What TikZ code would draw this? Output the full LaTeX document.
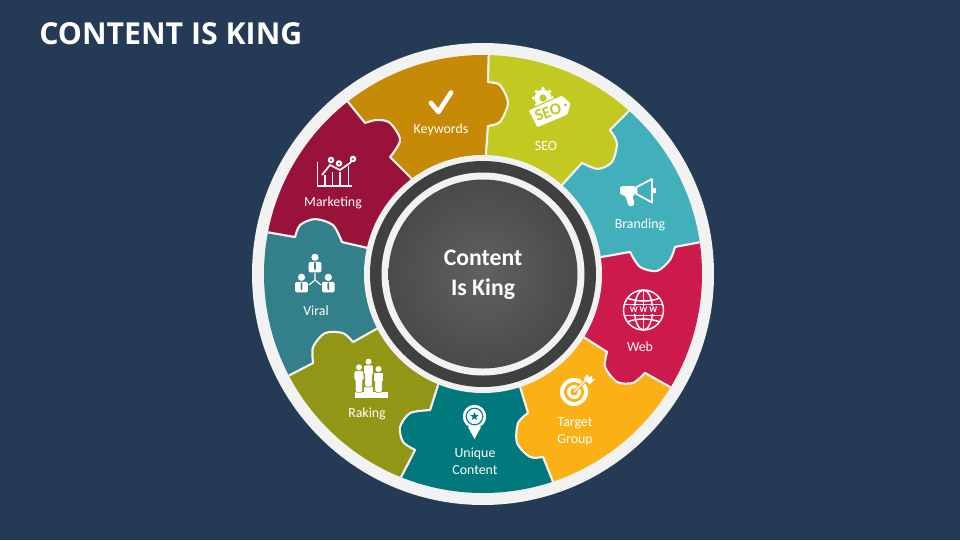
\documentclass[tikz,border=0pt]{standalone}
\usepackage{fontspec}
\setmainfont{Carlito}
\newfontfamily\titlefont{Open Sans}
\usetikzlibrary{shapes.geometric}
\definecolor{slatebg}{HTML}{253A54}
\definecolor{ringlight}{HTML}{F2F2F2}
\definecolor{ringdark}{HTML}{404040}
\definecolor{keywordcol}{HTML}{C68A06}
\definecolor{seocol}{HTML}{C2C920}
\definecolor{brandcol}{HTML}{41B0BB}
\definecolor{webcol}{HTML}{CB1A4B}
\definecolor{targetcol}{HTML}{FBB116}
\definecolor{uniquecol}{HTML}{00797D}
\definecolor{rakingcol}{HTML}{929617}
\definecolor{viralcol}{HTML}{34808A}
\definecolor{marketcol}{HTML}{991239}
\tikzset{
  piece/.style={fill=#1,draw=ringlight,line width=1.5pt,line join=round},
  lbl/.style={text=white,font=\fontsize{10.4pt}{12.6pt}\selectfont,align=center,inner sep=0pt},
  lined/.style={draw=white,line width=1.1pt},
}
% man in a suit, head on top of a block
\newcommand{\suitman}[3]{
  \fill[white] (#1,#2) circle (3.6);
  \fill[white,rounded corners=1pt] (#1-6.3,#2+15) rectangle (#1+6.3,#2+4.5);
  \fill[#3] (#1-.7,#2+5) -- (#1+.7,#2+5) -- (#1+1,#2+11) -- (#1,#2+13) -- (#1-1,#2+11) -- cycle;
}
% standing figure on the podium
\newcommand{\standing}[4]{
  \fill[white] (#1,#2) circle (3);
  \fill[white,draw=#4,line width=.4pt,rounded corners=1pt] (#1-5,#2+3.5) -- (#1+5,#2+3.5) -- (#1+5,#2+13) -- (#1+3.6,#2+13) -- (#1+3.6,#3) -- (#1-3.6,#3) -- (#1-3.6,#2+13) -- (#1-5,#2+13) -- cycle;
}
\begin{document}
\begin{tikzpicture}[x=0.75pt,y=-0.75pt]
  \useasboundingbox (0,0) rectangle (960,540);
  \fill[slatebg] (0,0) rectangle (960,540);
  \node[anchor=west,text=white,inner sep=0pt,font=\titlefont\bfseries\fontsize{22.7pt}{26pt}\selectfont] (title) at (39,34) {CONTENT IS KING};
  \coordinate (c) at (483,274);
  \fill[ringlight] (c) circle (231);
  % the nine puzzle pieces
  \begin{scope}
    \clip (c) circle (219);
    \path[piece=keywordcol] (c) -- (410,177) -- (390,157) -- plot[smooth] coordinates {(390,157)(400,140)(390,123)(377,120)(365,123)} -- (344,97) -- (400,-15) -- (489,48) -- (488,82) -- plot[smooth] coordinates {(488,82)(500,85)(508,103)(500,122)(488,126)} -- (486,154) -- cycle;
    \path[piece=seocol] (c) -- (486,154) -- (488,126) -- plot[smooth] coordinates {(488,126)(500,122)(508,103)(500,85)(488,82)} -- (489,48) -- (570,-15) -- (633,107) -- (610,130) -- plot[smooth] coordinates {(610,130)(617,143)(612,162)(598,169)(582,163)} -- (563,184) -- cycle;
    \path[piece=brandcol] (c) -- (563,184) -- (582,163) -- plot[smooth] coordinates {(582,163)(598,169)(612,162)(617,143)(610,130)} -- (633,107) -- (740,120) -- (707,241) -- (675,247) -- plot[smooth] coordinates {(675,247)(670,260)(657,271)(640,267)(630,252)} -- (602,257) -- cycle;
    \path[piece=webcol] (c) -- (602,257) -- (630,252) -- plot[smooth] coordinates {(630,252)(640,267)(657,271)(670,260)(675,247)} -- (707,241) -- (780,310) -- (677,391) -- (645,373) -- plot[smooth] coordinates {(645,373)(633,383)(617,382)(605,367)(607,352)} -- (585,338) -- cycle;
    \path[piece=targetcol] (c) -- (585,338) -- (607,352) -- plot[smooth] coordinates {(607,352)(605,367)(617,382)(633,383)(645,373)} -- (677,391) -- (640,530) -- (555,487) -- (543,457) -- plot[smooth] coordinates {(543,457)(530,457)(517,443)(518,423)(528,413)} -- (520,387) -- cycle;
    \path[piece=uniquecol] (c) -- (520,387) -- (528,413) -- plot[smooth] coordinates {(528,413)(518,423)(517,443)(530,457)(543,457)} -- (555,487) -- (475,570) -- (399,481) -- (415,450) -- plot[smooth] coordinates {(415,450)(403,442)(400,427)(410,413)(430,410)} -- (438,385) -- cycle;
    \path[piece=rakingcol] (c) -- (438,385) -- (430,410) -- plot[smooth] coordinates {(430,410)(410,413)(400,427)(403,442)(415,450)} -- (399,481) -- (280,500) -- (284,378) -- (313,363) -- plot[smooth] coordinates {(313,363)(313,347)(325,333)(343,333)(353,342)} -- (378,328) -- cycle;
    \path[piece=viralcol] (c) -- (378,328) -- (353,342) -- plot[smooth] coordinates {(353,342)(343,333)(325,333)(313,347)(313,363)} -- (284,378) -- (190,300) -- (261,231) -- (295,237) -- plot[smooth] coordinates {(295,237)(300,225)(315,219)(333,225)(342,242)} -- (368,248) -- cycle;
    \path[piece=marketcol] (c) -- (368,248) -- (342,242) -- plot[smooth] coordinates {(342,242)(333,225)(315,219)(300,225)(295,237)} -- (261,231) -- (260,100) -- (344,97) -- (365,123) -- plot[smooth] coordinates {(365,123)(377,120)(390,123)(400,140)(390,157)} -- (410,177) -- cycle;
  \end{scope}
  % hub
  \fill[ringlight] (c) circle (119);
  \fill[ringdark] (c) circle (113);
  \fill[ringlight] (c) circle (101.5);
  \shade[inner color=black!62,outer color=black!71] (c) circle (94.5);
  \node[text=white,font=\bfseries\fontsize{17.8pt}{22.5pt}\selectfont,align=center,inner sep=0pt] (hub) at (483,275) {Content\\Is King};
  % labels
  \node[lbl] (keywords) at (441,130) {Keywords};
  \node[lbl] (seo) at (546,146) {SEO};
  \node[lbl] (branding) at (640,225) {Branding};
  \node[lbl] (web) at (640,347) {Web};
  \node[lbl] (target) at (575,432) {Target\\Group};
  \node[lbl] (unique) at (475,461) {Unique\\Content};
  \node[lbl] (raking) at (367,414) {Raking};
  \node[lbl] (viral) at (316,311) {Viral};
  \node[lbl] (marketing) at (333,203) {Marketing};
  % check mark
  \draw[white,line width=3.5pt,line cap=round,line join=round] (431,103) -- (438.5,112) -- (451,92.5);
  % tag with gear
  \foreach \a in {0,45,...,315}{\fill[white] (543,98) ++(\a:9.5) circle (1.8);}
  \fill[white] (543,98) circle (8.5);
  \fill[seocol] (543,98) circle (3.6);
  \fill[white,draw=seocol,line width=.8pt,rounded corners=1pt] (528,110) -- (562,95) -- (571,103) -- (568,115) -- (537,128) -- cycle;
  \fill[seocol] (565.5,105) circle (1.6);
  \node[rotate=21,text=seocol,inner sep=0pt,font=\bfseries\fontsize{12.5pt}{12.5pt}\selectfont] (seotag) at (548,112) {SEO};
  % megaphone
  \fill[white,rounded corners=2pt] (620,186) -- (636,186) -- (636,195) -- (632,195) -- (635,205) -- (629,207) -- (625,195) -- (620,195) -- cycle;
  \draw[white,line width=1.3pt,line join=round] (636.5,187) -- (652,179) -- (652,202.5) -- (636.5,194) -- cycle;
  \fill[white] (653,188) rectangle (656,193);
  % globe
  \draw[lined] (643.5,310) circle (20);
  \draw[lined] (643.5,310) ellipse (9 and 20);
  \draw[lined] (643.5,290) -- (643.5,330);
  \draw[lined] (627,298) .. controls (637,302) and (650,302) .. (660,298);
  \draw[lined] (627,322) .. controls (637,318) and (650,318) .. (660,322);
  \draw[white,line width=.9pt] (624.5,304.5) -- (662.5,304.5) (624.5,315.5) -- (662.5,315.5);
  \fill[webcol] (627,306) rectangle (660,314);
  \node[text=white,inner sep=0pt,font=\bfseries\fontsize{6.5pt}{7pt}\selectfont] (www) at (643.5,310) {W W W};
  % target with arrow
  \fill[white] (574,392) circle (14);
  \fill[targetcol] (574,392) circle (10);
  \fill[white] (574,392) circle (7);
  \fill[targetcol] (574,392) circle (3.6);
  \draw[targetcol,line width=2.4pt] (574,392) -- (586,380);
  \draw[white,line width=1pt] (574,392) -- (586,380);
  \fill[white] (584,379) -- (587,374) -- (589,377) -- (592,376) -- (592,379) -- (595,379) -- (590,384) -- (587,382) -- cycle;
  % pin with star
  \fill[white] (468,427) -- (474.5,439) -- (481,427) -- cycle;
  \fill[white] (474.5,416.5) circle (11.7);
  \draw[uniquecol,line width=.8pt] (474.5,416.5) circle (8.3);
  \node[star,star points=5,star point ratio=2.3,fill=uniquecol,inner sep=0pt,minimum size=6.5pt] (pinstar) at (474.5,416.5) {};
  % people on a podium
  \fill[white] (355,392.3) rectangle (388.3,398.3);
  \fill[white] (364,387) rectangle (373.3,392.3);
  \standing{378.5}{369}{392.3}{rakingcol}
  \standing{359}{367.3}{392.3}{rakingcol}
  \standing{368.5}{361.7}{387}{rakingcol}
  % three connected men
  \suitman{315}{257.3}{viralcol}
  \suitman{301.5}{277.3}{viralcol}
  \suitman{328.3}{277.3}{viralcol}
  \draw[white,line width=.9pt] (315,273) -- (315,280) -- (309,285) (315,280) -- (321,285);
  % chart with coins
  \draw[white,line width=1pt] (317.7,161.7) -- (317.7,186) -- (351.7,186);
  \foreach \x/\y in {325/175,332.7/172,340/172,348.3/166}{\draw[white,line width=1pt] (\x,\y) -- (\x,186);}
  \draw[white,line width=1.3pt] (322,175) -- (330,165) -- (340,170) -- (350,163) -- (353,159);
  \foreach \x/\y in {331/160,339/163.5,353/159}{\fill[white] (\x,\y) circle (3.3); \fill[marketcol] (\x,\y) circle (1);}
\end{tikzpicture}
\end{document}
